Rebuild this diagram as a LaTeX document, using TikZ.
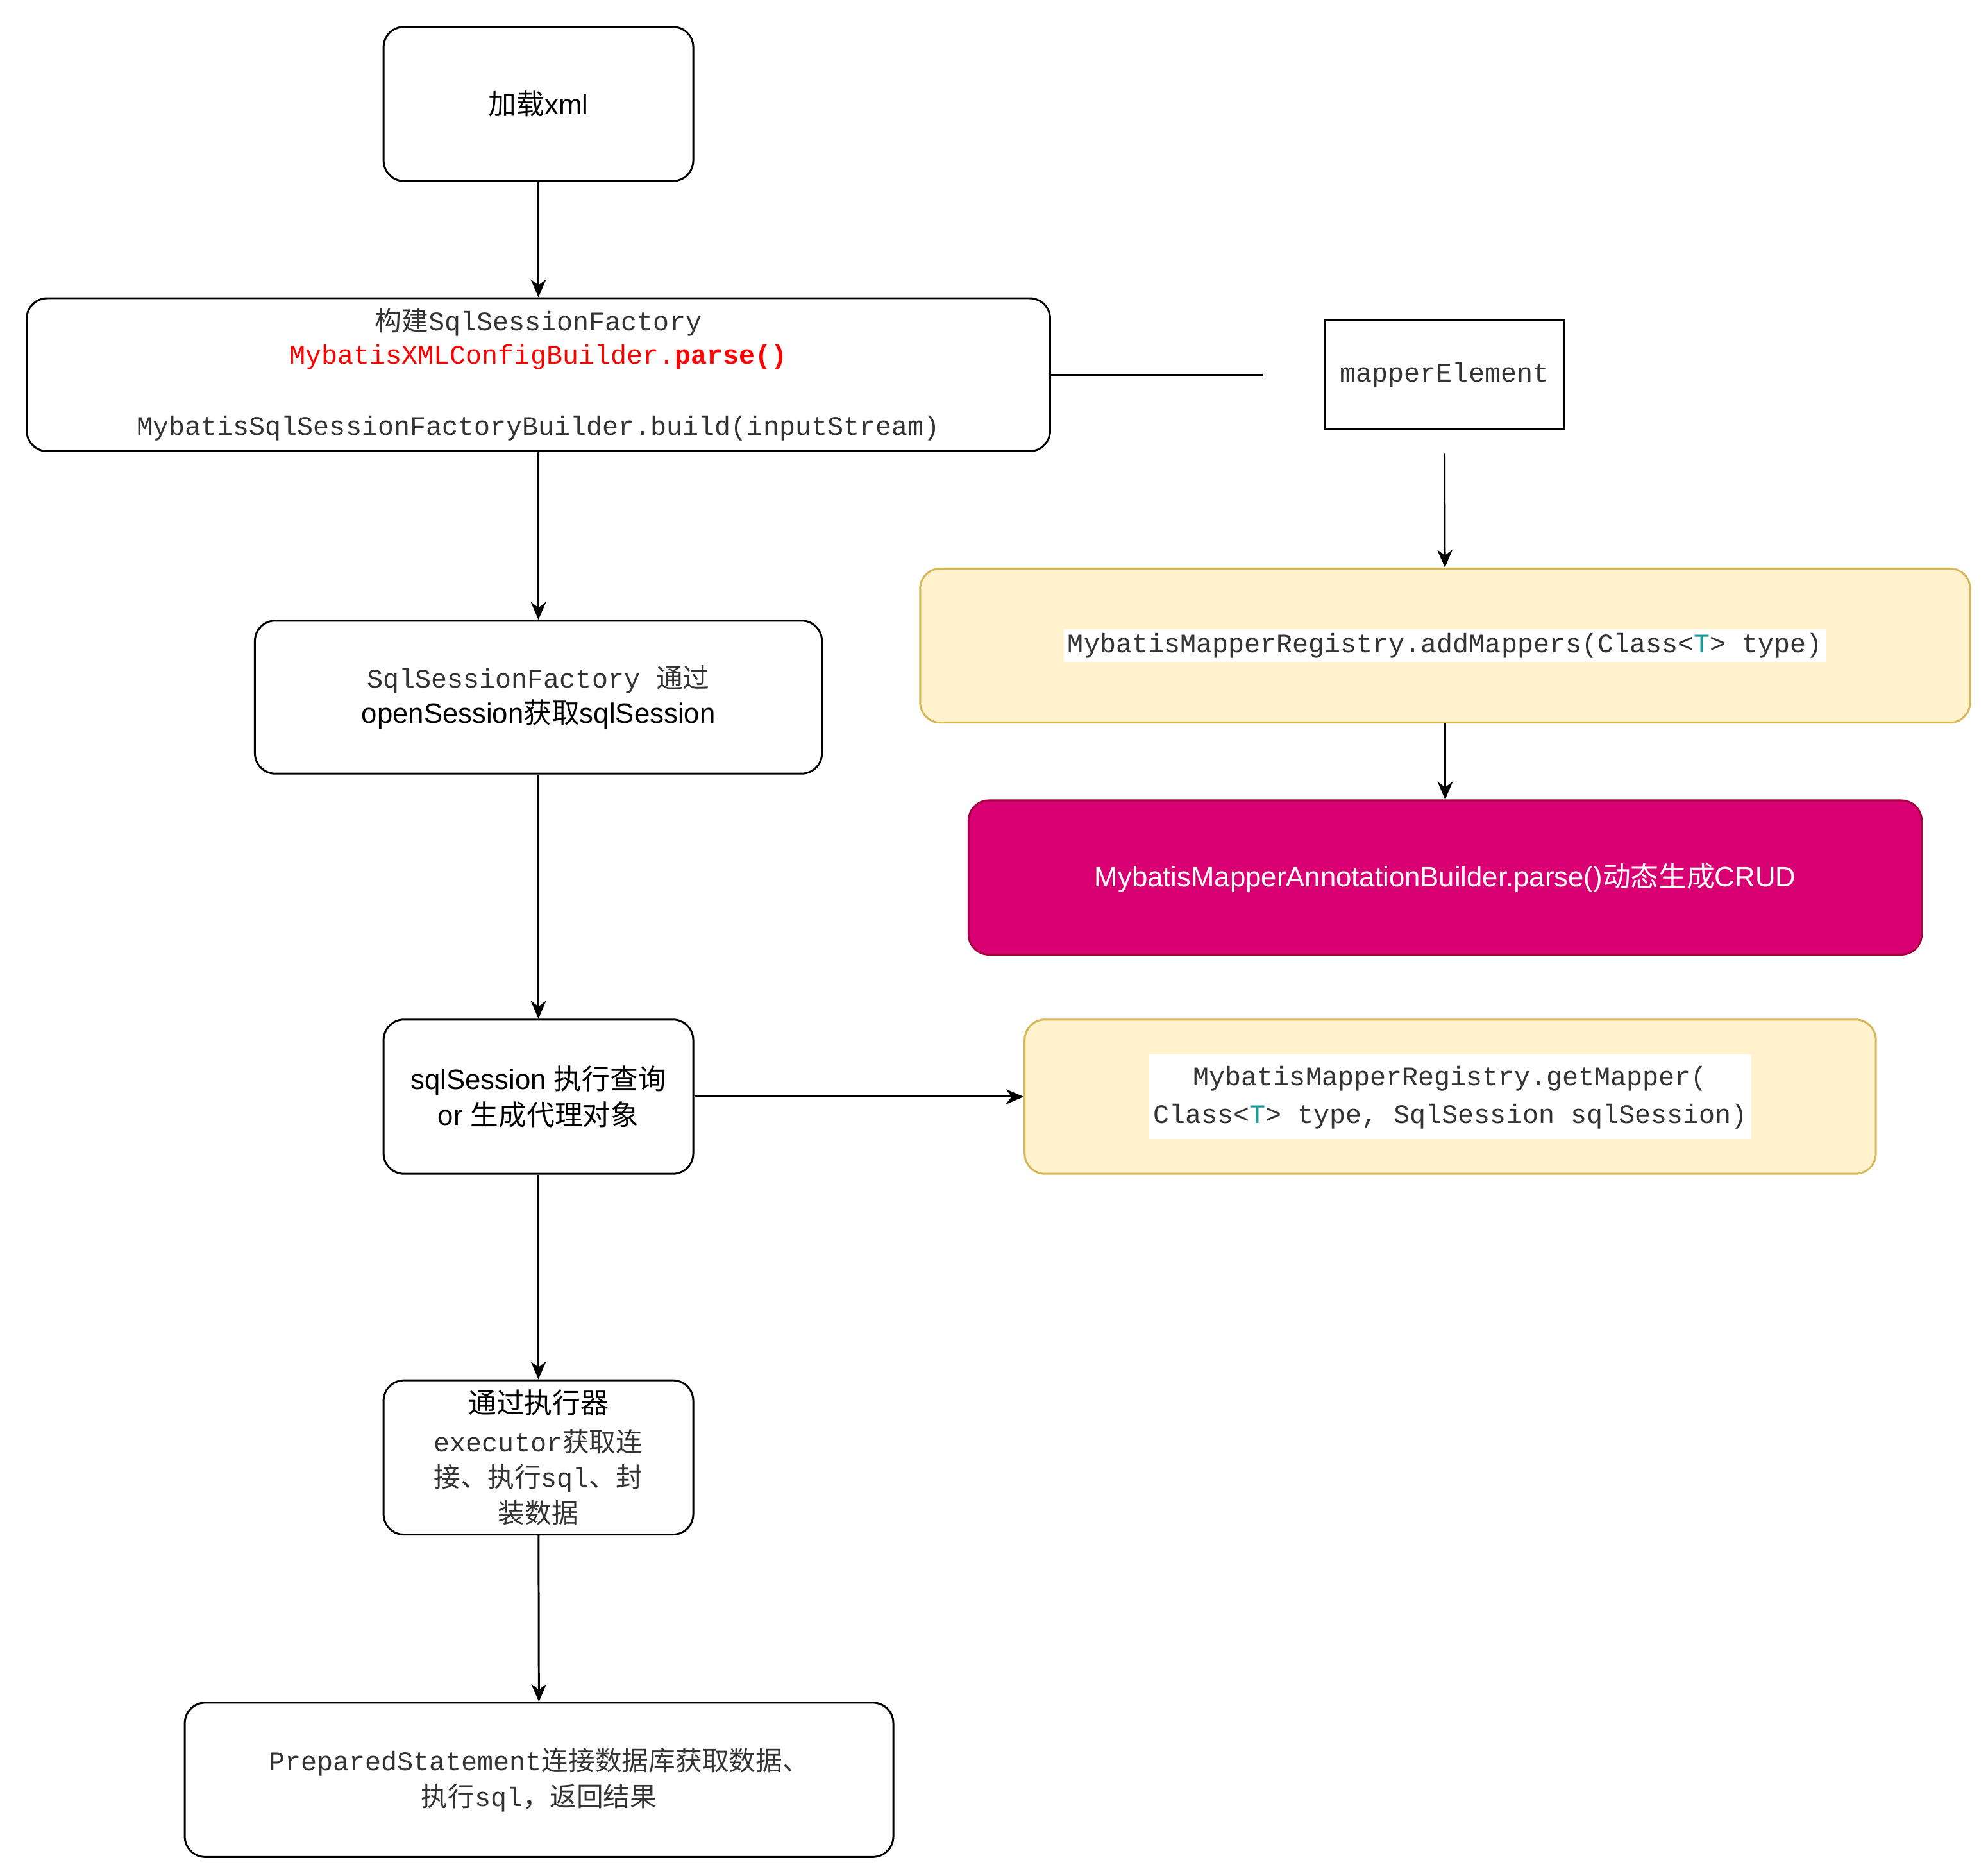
\documentclass[tikz,border=0pt]{standalone}
\usepackage{fontspec}
\setmainfont{Liberation Sans}
\newfontfamily\cjk{Noto Sans CJK SC}
\newfontfamily\mono{Liberation Mono}
\newcommand{\zh}[1]{{\cjk #1}}
\newcommand{\ml}[1]{{\fontsize{21}{30}\selectfont\mono\color{monogray}#1}}
\usetikzlibrary{arrows.meta}
\definecolor{yfill}{HTML}{FFF2CC}
\definecolor{ydraw}{HTML}{D6B656}
\definecolor{mfill}{HTML}{D80073}
\definecolor{mdraw}{HTML}{A50040}
\definecolor{monogray}{HTML}{333333}
\definecolor{teal2}{HTML}{1A9A9A}
\tikzset{
  box/.style={draw=black,line width=1.5pt,rounded corners=16pt,inner sep=0pt,align=center,font=\fontsize{22}{28}\selectfont},
  ybox/.style={box,fill=yfill,draw=ydraw},
  con/.style={line width=1.5pt,-{Stealth[length=14pt,width=12pt]}}
}
\begin{document}
\begin{tikzpicture}[x=1pt,y=-1pt]
\useasboundingbox (0,0) rectangle (1560,1471.5);
\node[box,minimum width=243pt,minimum height=121pt] (A) at (422.5,81.5) {\zh{加载}xml};
\node[box,minimum width=803pt,minimum height=120pt,font=\fontsize{21}{28}\selectfont\mono\color{monogray}] (B) at (422.5,294) {\zh{构建}SqlSessionFactory\\[-2pt]{\color{red}MybatisXMLConfigBuilder.\textbf{parse()}}\\[2pt]\mbox{}\\[-2pt]MybatisSqlSessionFactoryBuilder.build(inputStream)};
\node[draw,line width=1.5pt,minimum width=187pt,minimum height=86pt,inner sep=0pt,font=\fontsize{21}{28}\selectfont\mono\color{monogray}] (C) at (1133.5,294) {mapperElement};
\coordinate (Bend) at (991,294);
\coordinate (Cs) at (1133.5,356);
\draw[line width=1.5pt] (B.east) -- (Bend);
\node[ybox,minimum width=824pt,minimum height=121pt] (D) at (1134,506.5) {\ml{\colorbox{white}{MybatisMapperRegistry.addMappers(Class<{\color{teal2}T}> type)}}};
\node[box,fill=mfill,draw=mdraw,text=white,minimum width=748pt,minimum height=121pt] (E) at (1134,688.5) {MybatisMapperAnnotationBuilder.parse()\zh{动态生成}CRUD};
\node[box,minimum width=445pt,minimum height=120pt] (F) at (422.5,547) {\ml{SqlSessionFactory \zh{通过}}\\openSession\zh{获取}sqlSession};
\node[box,minimum width=243pt,minimum height=121pt] (G) at (422.5,860.5) {sqlSession \zh{执行查询}\\or \zh{生成代理对象}};
\node[ybox,minimum width=668pt,minimum height=121pt] (H) at (1138,860.5) {\colorbox{white}{\ml{\begin{tabular}{@{}c@{}}MybatisMapperRegistry.getMapper(\\Class<{\color{teal2}T}> type, SqlSession sqlSession)\end{tabular}}}};
\node[box,minimum width=243pt,minimum height=121pt] (I) at (422.5,1143.5) {\zh{通过执行器}\\[2pt]\ml{executor\zh{获取连}}\\\ml{\zh{接、执行}sql\zh{、封}}\\\ml{\zh{装数据}}};
\node[box,minimum width=556pt,minimum height=121pt] (J) at (423,1396.5) {\ml{PreparedStatement\zh{连接数据库获取数据、}}\\\ml{\zh{执行}sql\zh{，返回结果}}};
\draw[con] (A) -- (B);
\draw[con] (B) -- (F);
\draw[con] (F) -- (G);
\draw[con] (G) -- (I);
\draw[con] (I) -- (J);
\draw[con] (G) -- (H);
\draw[con] (Cs) -- (D);
\draw[con] (D) -- (E);
\end{tikzpicture}
\end{document}
